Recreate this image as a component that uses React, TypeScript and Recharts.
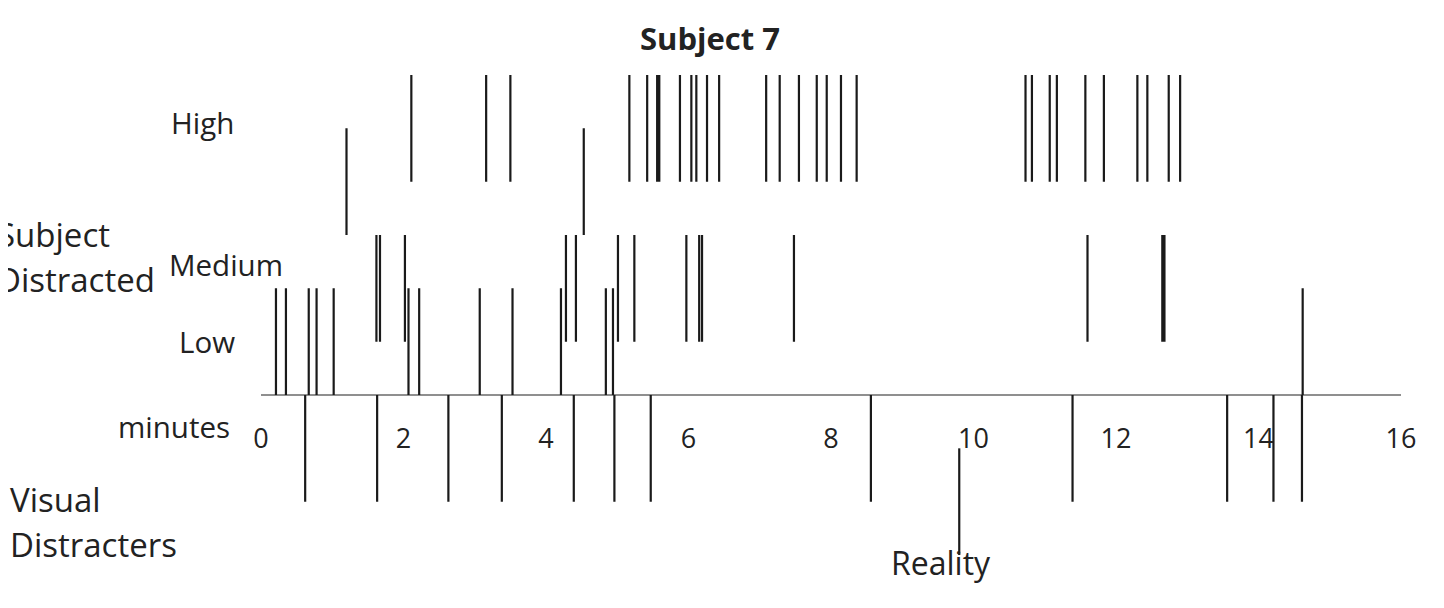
import React from 'react';
import { ComposedChart, Line, XAxis, YAxis, ReferenceLine, ReferenceDot } from 'recharts';

// Event times in minutes
const lowTimes = [0.21, 0.35, 0.67, 0.78, 1.02, 2.07, 2.22, 3.07, 3.53, 4.21, 4.84, 4.94, 14.62];
const mediumTimes = [1.62, 1.67, 2.02, 4.28, 4.42, 5.01, 5.24, 5.97, 6.15, 6.19, 7.48, 11.6, 12.65, 12.68];
const mediumHighTimes = [1.2, 4.53];
const highTimes = [
  2.11, 3.16, 3.5, 5.17, 5.42, 5.56, 5.59, 5.88, 6.04, 6.11, 6.26, 6.43, 7.09, 7.28, 7.55, 7.8, 7.94,
  8.14, 8.36, 10.73, 10.82, 11.07, 11.17, 11.57, 11.83, 12.3, 12.44, 12.74, 12.9,
];
const visualTimes = [0.62, 1.63, 2.63, 3.38, 4.39, 4.96, 5.47, 8.56, 11.39, 13.56, 14.21, 14.61];
const realityTimes = [9.8];

// Baseline level of each band (each event mark spans one unit upward)
const LOW_BASE = 0;
const MEDIUM_BASE = 0.5;
const MEDIUM_HIGH_BASE = 1.5;
const HIGH_BASE = 2;
const VISUAL_BASE = -1;
const REALITY_BASE = -1.5;
const MARK_LENGTH = 1;

const xTicks = [0, 2, 4, 6, 8, 10, 12, 14, 16];
const TICK_LABEL_LEVEL = -0.41;

type Pt = { x: number; y: number | null };
const toSegments = (times: number[], base: number): Pt[] =>
  times.flatMap((t) => [
    { x: t, y: base },
    { x: t, y: base + MARK_LENGTH },
    { x: t, y: null },
  ]);

const series = [
  { id: 'low', data: toSegments(lowTimes, LOW_BASE) },
  { id: 'medium', data: toSegments(mediumTimes, MEDIUM_BASE) },
  { id: 'mediumHigh', data: toSegments(mediumHighTimes, MEDIUM_HIGH_BASE) },
  { id: 'high', data: toSegments(highTimes, HIGH_BASE) },
  { id: 'visual', data: toSegments(visualTimes, VISUAL_BASE) },
  { id: 'reality', data: toSegments(realityTimes, REALITY_BASE) },
];

const FONT = "'Open Sans', 'DejaVu Sans', sans-serif";
const INK = '#1a1a1a';
const TEXT = '#222222';

export default function App() {
  return (
    <div style={{ position: 'relative', width: 1428, height: 592, fontFamily: FONT }}>
      <ComposedChart width={1428} height={592} margin={{ top: 67, right: 35, bottom: 45, left: 253 }}>
        <XAxis type="number" dataKey="x" domain={[0, 16]} ticks={xTicks} hide allowDataOverflow />
        <YAxis type="number" domain={[-1.5, 3]} hide allowDataOverflow width={0} />
        <ReferenceLine y={0} stroke="#8f8f8f" strokeWidth={2} />
        {series.map((s) => (
          <Line
            key={s.id}
            data={s.data}
            dataKey="y"
            type="linear"
            stroke={INK}
            strokeWidth={2.2}
            dot={false}
            activeDot={false}
            connectNulls={false}
            isAnimationActive={false}
            legendType="none"
          />
        ))}
        {xTicks.map((t) => (
          <ReferenceDot
            key={'tick' + t}
            x={t}
            y={TICK_LABEL_LEVEL}
            r={0}
            fill="none"
            stroke="none"
            label={{ value: String(t), position: 'center', fill: TEXT, fontSize: 27, fontFamily: FONT }}
          />
        ))}
      </ComposedChart>
      <svg
        width={1444}
        height={608}
        style={{ position: 'absolute', left: -8, top: -8, pointerEvents: 'none' }}
        fontFamily={FONT}
        fill={TEXT}
      >
        <line x1={697} y1={0} x2={697} y2={3} stroke={INK} strokeWidth={2} />
        <text x={710} y={50} textAnchor="middle" fontSize={31} fontWeight="bold">
          Subject 7
        </text>
        <text x={171} y={134} fontSize={29.5}>High</text>
        <text x={169} y={276} fontSize={29.5}>Medium</text>
        <text x={179} y={353} fontSize={29.5}>Low</text>
        <text x={118} y={438} fontSize={29.5}>minutes</text>
        <text x={-3} y={247} fontSize={33}>Subject</text>
        <text x={-3} y={292} fontSize={33}>Distracted</text>
        <text x={10} y={512} fontSize={33}>Visual</text>
        <text x={10} y={557} fontSize={33}>Distracters</text>
        <text x={891} y={575} fontSize={32}>Reality</text>
      </svg>
    </div>
  );
}
